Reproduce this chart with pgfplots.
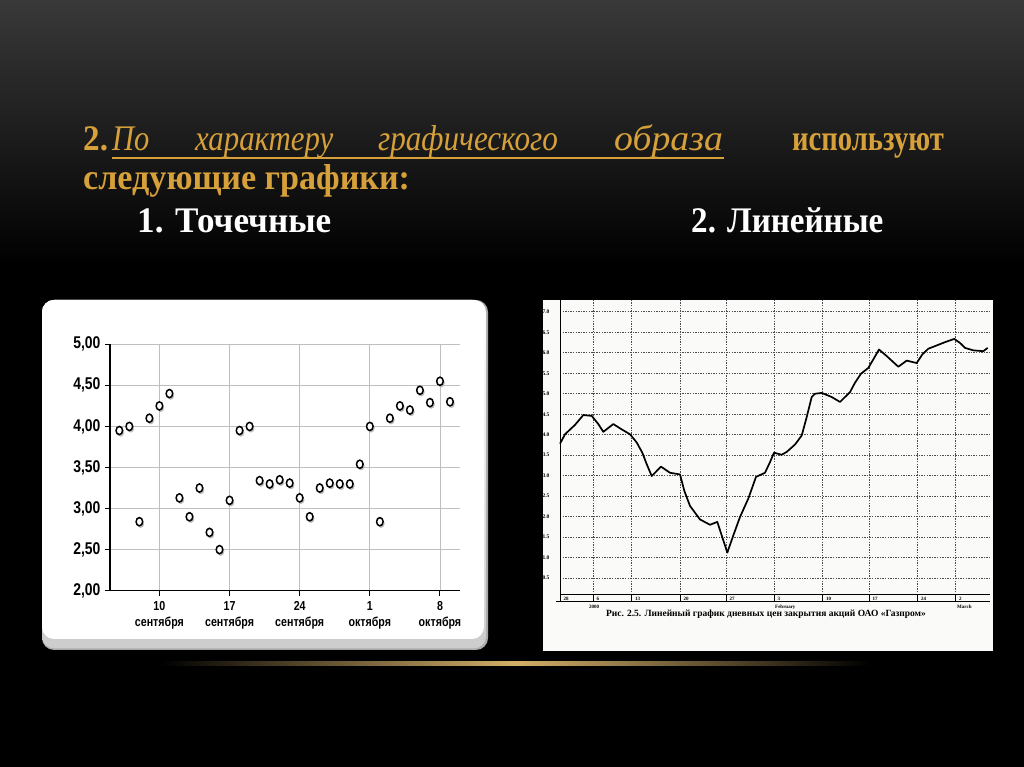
\documentclass[border=0pt]{standalone}
\usepackage{pgfplots}
\pgfplotsset{compat=1.18}
\usepackage{fontspec}
\setmainfont{Liberation Serif}
\newfontfamily\titlefont[FakeStretch=0.92]{Liberation Serif}
\newfontfamily\chartfont[FakeStretch=0.82]{Liberation Sans}
\definecolor{gold}{RGB}{214,160,58}
\definecolor{bgtop}{RGB}{57,57,57}
\definecolor{glow}{RGB}{210,175,105}
\definecolor{panelgray}{RGB}{170,170,170}
\definecolor{paper}{RGB}{250,250,248}
\newcommand{\tf}{\titlefont\fontsize{36}{36}\selectfont}
\begin{document}
\begin{tikzpicture}[x=1pt,y=1pt]
\useasboundingbox (0,0) rectangle (1024,767);
% background
\fill[black] (0,0) rectangle (1024,767);
\shade[top color=bgtop, bottom color=black] (0,767) rectangle (1024,500);
% glow line
\shade[left color=black, right color=glow] (160,101.5) rectangle (516,105);
\shade[left color=glow, right color=black] (516,101.5) rectangle (870,105);
% titles
\node[anchor=base west, inner sep=0pt, text=gold, font=\tf\bfseries] at (83,616) {2.};
\node[anchor=base west, inner sep=0pt, text=gold, font=\tf\itshape] at (112,616) {\scalebox{0.92}[1]{По}};
\node[anchor=base west, inner sep=0pt, text=gold, font=\tf\itshape] at (195,616) {\scalebox{0.93}[1]{характеру}};
\node[anchor=base west, inner sep=0pt, text=gold, font=\tf\itshape] at (378,616) {\scalebox{0.94}[1]{графического}};
\node[anchor=base west, inner sep=0pt, text=gold, font=\tf\itshape] at (614,616) {\scalebox{1.14}[1]{образа}};
\node[anchor=base west, inner sep=0pt, text=gold, font=\tf\bfseries] at (792,616) {\scalebox{0.865}[1]{используют}};
\draw[gold, line width=1.6pt] (112,609) -- (724,609);
\node[anchor=base west, inner sep=0pt, text=gold, font=\tf\bfseries] at (83,577) {\scalebox{1.03}[1]{следующие графики:}};
\node[anchor=base west, inner sep=0pt, text=white, font=\tf\bfseries] at (137,534) {\scalebox{1.06}[1]{1. Точечные}};
\node[anchor=base west, inner sep=0pt, text=white, font=\tf\bfseries] at (691,534) {\scalebox{1.0}[1]{2. Линейные}};
% panels
\fill[panelgray, rounded corners=12pt] (42,117) rectangle (488,467);
\shade[top color=white, bottom color=white!80!black, rounded corners=12pt] (42,118.5) rectangle (486,467);
\fill[white, rounded corners=12pt] (42,128) rectangle (484,467);
\fill[paper] (543,116) rectangle (993,467);

% left chart: scatter
\begin{axis}[
  at={(110pt,176.3pt)}, anchor=south west, scale only axis,
  width=350pt, height=246.4pt,
  xmin=5.07, xmax=40, ymin=2, ymax=5,
  axis lines=left, axis line style={-, black, line width=1.3pt},
  xtick={10,17,24,31,38},
  xticklabels={{10\\сентября},{17\\сентября},{24\\сентября},{1\\октября},{8\\октября}},
  ytick={2,2.5,3,3.5,4,4.5,5},
  yticklabels={{2,00},{2,50},{3,00},{3,50},{4,00},{4,50},{5,00}},
  grid=major, major grid style={gray!50, line width=0.8pt},
  tick style={black, line width=1pt}, tick align=outside, major tick length=5pt,
  yticklabel style={font=\chartfont\bfseries\fontsize{17}{17}\selectfont, xshift=-1pt},
  xticklabel style={align=center, font=\chartfont\bfseries\fontsize{13}{16}\selectfont, yshift=-2pt},
  clip=false,
]
\addplot[only marks, mark=*, mark size=4.1pt, mark options={fill=gray!55, draw=gray!55, xscale=0.8, xshift=1.6pt, yshift=-1.8pt}] coordinates {
(6,3.95)(7,4.00)(8,2.84)(9,4.10)(10,4.25)(11,4.40)(12,3.13)(13,2.90)(14,3.25)(15,2.71)(16,2.50)(17,3.10)
(18,3.95)(19,4.00)(20,3.34)(21,3.30)(22,3.35)(23,3.31)(24,3.13)(25,2.90)(26,3.25)(27,3.31)(28,3.30)(29,3.30)
(30,3.54)(31,4.00)(32,2.84)(33,4.10)(34,4.25)(35,4.20)(36,4.44)(37,4.29)(38,4.55)(39,4.30)};
\addplot[only marks, mark=*, mark size=4.1pt, mark options={fill=white, draw=black, line width=1.5pt, xscale=0.8}] coordinates {
(6,3.95)(7,4.00)(8,2.84)(9,4.10)(10,4.25)(11,4.40)(12,3.13)(13,2.90)(14,3.25)(15,2.71)(16,2.50)(17,3.10)
(18,3.95)(19,4.00)(20,3.34)(21,3.30)(22,3.35)(23,3.31)(24,3.13)(25,2.90)(26,3.25)(27,3.31)(28,3.30)(29,3.30)
(30,3.54)(31,4.00)(32,2.84)(33,4.10)(34,4.25)(35,4.20)(36,4.44)(37,4.29)(38,4.55)(39,4.30)};
\end{axis}

% right chart: line
\begin{axis}[
  at={(560pt,172pt)}, anchor=south west, scale only axis,
  width=430pt, height=295pt,
  xmin=0, xmax=430, ymin=20.085, ymax=27.29,
  axis lines=left, axis line style={-, black, line width=1pt},
  xtick={0,33,71.7,120,166,214,262.7,309,357.7,395.7},
  xticklabels={28,6,13,20,27,3,10,17,24,2},
  ytick={20.5,21,21.5,22,22.5,23,23.5,24,24.5,25,25.5,26,26.5,27},
  yticklabels={20.5,21.0,21.5,22.0,22.5,23.0,23.5,24.0,24.5,25.0,25.5,26.0,26.5,27.0},
  grid=major, major grid style={black!70, line width=0.9pt, dash pattern=on 1.3pt off 1.3pt},
  xtick style={black, line width=0.8pt}, ytick style={draw=none},
  tick align=outside, major tick length=7pt,
  xticklabel style={anchor=north west, font=\bfseries\fontsize{5}{5}\selectfont, xshift=0pt, yshift=8.5pt},
  yticklabel style={font=\bfseries\fontsize{5.5}{5.5}\selectfont},
  clip=false,
]
\addplot[black, line width=1.7pt, line join=round] coordinates {
(0,23.78)(5,24.01)(15,24.24)(23.3,24.48)(31.7,24.46)(38.3,24.26)(43.3,24.07)(53.3,24.26)(61.7,24.13)
(70,24.01)(76.7,23.81)(82.3,23.56)(86.7,23.28)(91.7,22.99)(101,23.22)(110,23.07)(120,23.03)(124.3,22.63)
(130,22.26)(140,21.93)(150,21.80)(157.3,21.87)(161.7,21.54)(167.3,21.12)(173.3,21.54)(180,21.99)
(188.3,22.44)(196,22.97)(205,23.07)(210,23.33)(214,23.56)(221.7,23.51)(226.7,23.58)(235,23.76)
(241.7,23.98)(246.7,24.43)(251.7,24.92)(255,25.00)(261.7,25.02)(271.7,24.92)(280,24.80)(285,24.92)
(290,25.04)(295,25.27)(301,25.49)(308.3,25.63)(313.3,25.84)(319,26.08)(326.7,25.92)(338.3,25.66)
(346.7,25.81)(356.7,25.75)(362.3,25.96)(368.3,26.10)(376.7,26.18)(385,26.26)(394.3,26.34)(400,26.24)
(405,26.12)(413.3,26.06)(423.3,26.04)(427.7,26.12)};
\end{axis}
\draw[black, line width=1pt] (556,165) -- (990,165);
\node[anchor=north west, inner sep=0pt, font=\bfseries\fontsize{5}{5}\selectfont] at (589,162.5) {2000};
\node[anchor=north west, inner sep=0pt, font=\bfseries\fontsize{5}{5}\selectfont] at (775,162.5) {February};
\node[anchor=north west, inner sep=0pt, font=\bfseries\fontsize{5}{5}\selectfont] at (957,162.5) {March};
\node[anchor=center, inner sep=0pt, font=\bfseries\fontsize{9.5}{9.5}\selectfont] at (766,153) {Рис. 2.5. Линейный график дневных цен закрытия акций ОАО «Газпром»};
\end{tikzpicture}
\end{document}
